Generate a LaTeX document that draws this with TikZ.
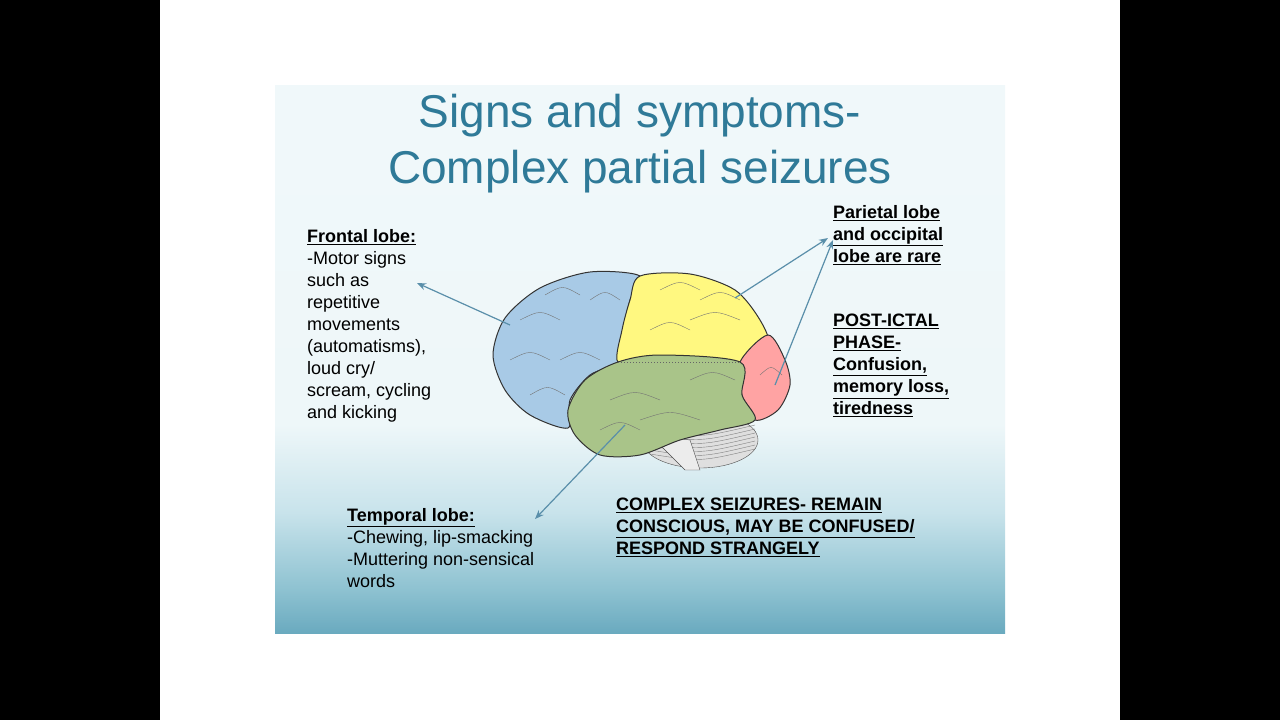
\documentclass[tikz,border=0pt]{standalone}
\usepackage{fontspec}
\setmainfont{Liberation Sans}
\usetikzlibrary{arrows.meta}
\definecolor{ttl}{HTML}{2F7A98}
\definecolor{arr}{HTML}{5A8FAA}
\definecolor{bgA}{HTML}{6AAABF}
\definecolor{bgB}{HTML}{8EC2D1}
\definecolor{bgC}{HTML}{C8E3EB}
\definecolor{bgD}{HTML}{EEF7F9}
\definecolor{bgE}{HTML}{F2F9FB}
\definecolor{lbBlue}{HTML}{A8CAE6}
\definecolor{lbGreen}{HTML}{A9C489}
\pgfdeclareverticalshading{slidebg}{100bp}{
 color(0bp)=(bgA); color(25bp)=(bgA); color(29bp)=(bgB); color(36bp)=(bgC);
 color(44bp)=(bgD); color(100bp)=(bgE)}
\tikzset{
 lbl/.style={anchor=north west,align=left,font=\fontsize{18}{22}\selectfont,inner sep=0pt},
 bl/.style={lbl,font=\bfseries\fontsize{18}{22}\selectfont},
 ar/.style={draw=arr,line width=1.2pt,-{Stealth[length=9pt,width=7pt]}},
 lobe/.style={draw=black!80,line width=1pt}
}
\begin{document}
\begin{tikzpicture}[x=1pt,y=-1pt]
\useasboundingbox (0,0) rectangle (1280,720);
\fill[black] (0,0) rectangle (1280,720);
\fill[white] (160,0) rectangle (1120,720);
\shade[shading=slidebg] (275,85) rectangle (1005,633);
\node[font=\fontsize{46}{56}\selectfont,text=ttl,align=center] (title) at (640,144) {Signs and symptoms-\\Complex partial seizures};
% brain
\fill[gray!25,draw=black!70] (700,440) ellipse (58 and 28);
\foreach \i in {0,...,6} \draw[black!50] (650,430+4*\i) .. controls (700,438+4*\i) .. (755,425+4*\i);
\fill[gray!15,draw=black!70] (650,435) -- (685,470) -- (700,470) -- (690,440) -- cycle;
\fill[lbBlue,lobe] plot[smooth cycle] coordinates {(493,355) (505,318) (540,288) (590,272) (640,276) (630,300) (622,335) (618,362) (590,375) (570,400) (568,428) (530,415) (505,390)};
\fill[yellow!50,lobe] plot[smooth cycle] coordinates {(640,276) (690,274) (735,290) (760,320) (768,345) (740,362) (700,358) (650,356) (618,362) (622,330) (630,300)};
\fill[red!35!pink!70,lobe] plot[smooth cycle] coordinates {(768,335) (785,360) (790,385) (778,410) (755,420) (742,395) (740,362)};
\fill[lbGreen,lobe] plot[smooth cycle] coordinates {(618,362) (660,355) (740,362) (742,395) (755,420) (720,430) (680,440) (640,455) (600,455) (575,435) (568,410) (585,380)};
\foreach \a/\b/\c in {520/320/560, 545/295/580, 510/360/550, 560/360/600, 660/290/700, 690/320/740, 650/330/690, 610/400/660, 640/420/700, 690/380/735, 590/300/620, 530/395/565, 700/300/740, 600/430/640, 760/375/782}
 \draw[black!55] (\a,\b) .. controls ({(\a+\c)/2},{\b-10}) .. (\c,\b);
\draw[black!60,dotted,line width=1pt] (618,362) -- (740,362);
\coordinate (fa) at (510,325); \coordinate (ta) at (625,425);
\coordinate (pa) at (735,298); \coordinate (oa) at (775,385);
\node[lbl] (front) at (307,229) {\textbf{\underline{Frontal lobe:}}\\-Motor signs\\such as\\repetitive\\movements\\(automatisms),\\loud cry/\\scream, cycling\\and kicking};
\node[lbl] (temp) at (347,508) {\textbf{\underline{Temporal lobe:}}\\-Chewing, lip-smacking\\-Muttering non-sensical\\words};
\node[bl] (par) at (833,205) {\underline{Parietal lobe}\\\underline{and occipital}\\\underline{lobe are rare}};
\node[bl] (post) at (833,314) {\underline{POST-ICTAL}\\\underline{PHASE-}\\\underline{Confusion,}\\\underline{memory loss,}\\\underline{tiredness}};
\node[bl] (cx) at (616,498) {\underline{COMPLEX SEIZURES- REMAIN}\\\underline{CONSCIOUS, MAY BE CONFUSED/}\\\underline{RESPOND STRANGELY}};
\coordinate (fe) at (417,283); \coordinate (te) at (535,519);
\coordinate (pe) at (828,238); \coordinate (oe) at (833,240);
\draw[ar] (fa) -- (fe);
\draw[ar] (ta) -- (te);
\draw[ar] (pa) -- (pe);
\draw[ar] (oa) -- (oe);
\end{tikzpicture}
\end{document}
